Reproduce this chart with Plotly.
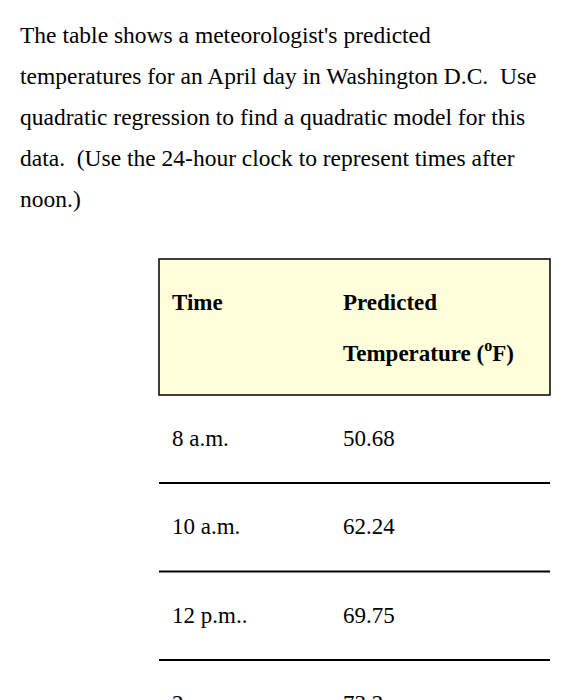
import plotly.graph_objects as go

intro_lines = [
    "The table shows a meteorologist's predicted",
    "temperatures for an April day in Washington D.C.  Use",
    "quadratic regression to find a quadratic model for this",
    "data.  (Use the 24-hour clock to represent times after",
    "noon.)",
]
header_time = "Time"
header_temp = ["Predicted", "Temperature (<sup>o</sup>F)"]
times = ["8 a.m.", "10 a.m.", "12 p.m..", "2"]
temps = ["50.68", "62.24", "69.75", "73.2"]

FONT = "Liberation Serif, Times New Roman, serif"

fig = go.Figure()
ann = []
for i, line in enumerate(intro_lines):
    ann.append(dict(x=18, y=35 + i * 41, text=line, xanchor="left", yanchor="middle",
                    showarrow=False, font=dict(size=23.5, color="black", family=FONT)))

shapes = [dict(type="rect", x0=159, x1=550, y0=259, y1=395, fillcolor="#ffffdc",
               line=dict(color="black", width=1.5), layer="below")]

ann.append(dict(x=170, y=302, text="<b>" + header_time + "</b>", xanchor="left", showarrow=False,
                font=dict(size=23, color="black", family=FONT)))
for i, t in enumerate(header_temp):
    ann.append(dict(x=341, y=302 + i * 49, text="<b>" + t + "</b>", xanchor="left", showarrow=False,
                    font=dict(size=23, color="black", family=FONT)))

for i, (t, v) in enumerate(zip(times, temps)):
    y = 438 + i * 88.5
    ann.append(dict(x=170, y=y, text=t, xanchor="left", showarrow=False,
                    font=dict(size=23, color="black", family=FONT)))
    ann.append(dict(x=341, y=y, text=v, xanchor="left", showarrow=False,
                    font=dict(size=23, color="black", family=FONT)))
    if i < 3:
        shapes.append(dict(type="line", x0=159, x1=550, y0=y + 45, y1=y + 45,
                           line=dict(color="black", width=2)))

fig.update_layout(
    width=568, height=700, margin=dict(l=0, r=0, t=0, b=0),
    paper_bgcolor="white", plot_bgcolor="white",
    xaxis=dict(range=[8, 576], visible=False, fixedrange=True),
    yaxis=dict(range=[708, 8], visible=False, fixedrange=True),
    annotations=ann, shapes=shapes, showlegend=False,
)

fig.write_html("out.html")
